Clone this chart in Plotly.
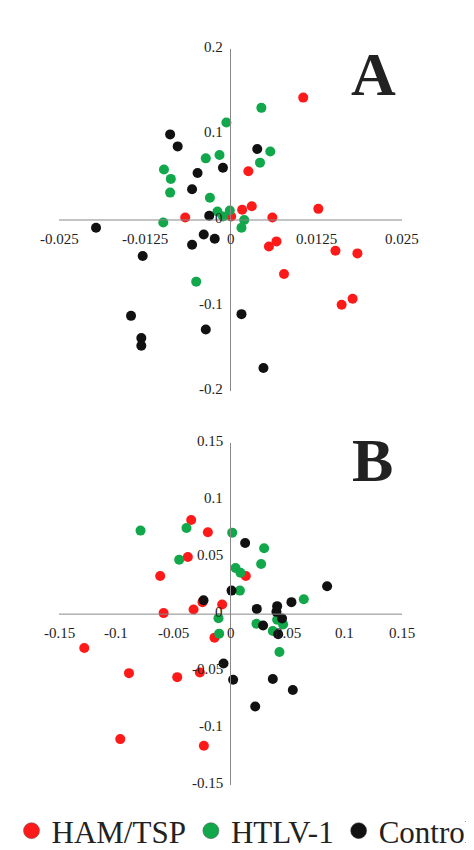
import plotly.graph_objects as go

# Panel A values
a_ham_x = [0.0106, 0.0128, 0.0026, 0.0017, 0.0031, 0.0001, -0.0066, 0.0061, 0.0056, 0.0067, 0.0078, 0.0153, 0.0185, 0.0162, 0.0178]
a_ham_y = [0.143, 0.013, 0.057, 0.012, 0.016, 0.004, 0.003, 0.003, -0.031, -0.025, -0.063, -0.036, -0.039, -0.099, -0.092]
a_htlv_x = [0.0045, -0.0006, 0.0058, 0.0043, -0.0016, -0.0036, -0.0097, -0.0087, -0.0088, -0.0030, -0.0019, -0.0001, -0.0011, 0.0020, 0.0016, -0.0098, -0.0050]
a_htlv_y = [0.131, 0.114, 0.080, 0.067, 0.076, 0.072, 0.059, 0.048, 0.032, 0.026, 0.010, 0.011, 0.004, 0.000, -0.009, -0.003, -0.072]
a_ctrl_x = [-0.0088, -0.0077, 0.0039, -0.0011, -0.0048, -0.0056, -0.0031, -0.0196, -0.0039, -0.0023, -0.0056, -0.0128, -0.0145, -0.0130, -0.0130, -0.0036, 0.0016, 0.0048]
a_ctrl_y = [0.100, 0.086, 0.083, 0.061, 0.055, 0.036, 0.005, -0.009, -0.017, -0.022, -0.029, -0.042, -0.112, -0.138, -0.147, -0.128, -0.110, -0.173]

# Panel B values
b_ham_x = [-0.0344, -0.0198, -0.0373, -0.0615, 0.0134, -0.0073, -0.0245, -0.0323, -0.0585, -0.014, -0.1279, -0.0888, -0.0466, -0.0268, -0.0964, -0.0233]
b_ham_y = [0.0825, 0.0717, 0.050, 0.0334, 0.0334, 0.0084, 0.0105, 0.0041, 0.0009, -0.0206, -0.0296, -0.0517, -0.0552, -0.0511, -0.1095, -0.1153]
b_htlv_x = [-0.0787, -0.0385, 0.0015, 0.0294, 0.0268, -0.0449, 0.0044, 0.0087, 0.0082, 0.0641, -0.0105, 0.0227, -0.0099, 0.0408, 0.046, 0.037, 0.0428]
b_htlv_y = [0.0732, 0.0755, 0.0714, 0.0578, 0.0439, 0.0476, 0.0404, 0.0363, 0.0206, 0.0131, -0.0035, -0.0084, -0.0171, -0.0049, -0.009, -0.0148, -0.0331]
b_ctrl_x = [0.0128, 0.0845, 0.0009, -0.0236, 0.0533, 0.023, 0.0408, 0.0402, 0.0451, 0.0285, 0.0417, -0.0061, 0.0023, 0.037, 0.0545, 0.0216]
b_ctrl_y = [0.0624, 0.0244, 0.0206, 0.0122, 0.0105, 0.0046, 0.007, 0.002, -0.0038, -0.0099, -0.0177, -0.0433, -0.0575, -0.0569, -0.0665, -0.081]

a_xticks = [-0.025, -0.0125, 0, 0.0125, 0.025]
a_xlabels = ['-0.025', '-0.0125', '0', '0.0125', '0.025']
a_yticks = [-0.2, -0.1, 0, 0.1, 0.2]
a_ylabels = ['-0.2', '-0.1', '0', '0.1', '0.2']
b_ticks = [-0.15, -0.1, -0.05, 0, 0.05, 0.1, 0.15]
b_labels = ['-0.15', '-0.1', '-0.05', '0', '0.05', '0.1', '0.15']

groups = ['HAM/TSP', 'HTLV-1', 'Control']
colors = ['#ff1a1a', '#10a84a', '#111111']
FONT = '"Liberation Serif", "DejaVu Serif", "Times New Roman", serif'

fig = go.Figure()
panels = [
    ('x', 'y', [(a_ham_x, a_ham_y), (a_htlv_x, a_htlv_y), (a_ctrl_x, a_ctrl_y)]),
    ('x2', 'y2', [(b_ham_x, b_ham_y), (b_htlv_x, b_htlv_y), (b_ctrl_x, b_ctrl_y)]),
]
for xa, ya, data in panels:
    for (xs, ys), c in zip(data, colors):
        fig.add_trace(go.Scatter(x=xs, y=ys, mode='markers', xaxis=xa, yaxis=ya,
                                 marker=dict(color=c, size=10), showlegend=False))

# legend entries with large markers
for g, c in zip(groups, colors):
    fig.add_trace(go.Scatter(x=[None], y=[None], mode='markers', name=g,
                             marker=dict(color=c, size=20, line=dict(color='#555', width=0.5))))

shapes = []
annotations = []
axline = dict(color='#888888', width=1)
for xr, yr, xt, xl, yt, yl in [('x', 'y', a_xticks, a_xlabels, a_yticks, a_ylabels),
                               ('x2', 'y2', b_ticks, b_labels, b_ticks, b_labels)]:
    shapes.append(dict(type='line', xref=xr, yref=yr, x0=xt[0], x1=xt[-1], y0=0, y1=0, line=axline))
    shapes.append(dict(type='line', xref=xr, yref=yr, x0=0, x1=0, y0=yt[0], y1=yt[-1], line=axline))
    for v, t in zip(xt, xl):
        annotations.append(dict(x=v, y=0, xref=xr, yref=yr, text=t, showarrow=False,
                                yshift=-19, font=dict(family=FONT, size=15, color='#222')))
    for v, t in zip(yt, yl):
        annotations.append(dict(x=0, y=v, xref=xr, yref=yr, text=t, showarrow=False,
                                xanchor='right', xshift=-6, yshift=2,
                                font=dict(family=FONT, size=15, color='#222')))

for letter, px, py in [('A', 390, 30), ('B', 387, 454)]:
    annotations.append(dict(x=px / 474, y=1 - py / 850, xref='paper', yref='paper',
                            text='<b>' + letter + '</b>', showarrow=False,
                            font=dict(family=FONT, size=62, color='#222')))

hidden = dict(visible=False, showgrid=False, zeroline=False)
fig.update_layout(
    width=474, height=850,
    margin=dict(l=0, r=0, t=0, b=0),
    paper_bgcolor='white', plot_bgcolor='white',
    font=dict(family=FONT),
    xaxis=dict(hidden, domain=[51 / 474, 394 / 474], range=[-0.025, 0.025]),
    yaxis=dict(hidden, domain=[1 - 385 / 850, 1 - 41 / 850], range=[-0.2, 0.2]),
    xaxis2=dict(hidden, domain=[51 / 474, 394 / 474], range=[-0.15, 0.15]),
    yaxis2=dict(hidden, domain=[1 - 781 / 850, 1 - 437 / 850], range=[-0.15, 0.15]),
    shapes=shapes, annotations=annotations,
    legend=dict(orientation='h', x=0.5, xanchor='center', y=-0.005, yanchor='bottom',
                font=dict(family=FONT, size=31, color='#222'), itemwidth=30,
                tracegroupgap=0),
)
fig.write_html('out.html')
